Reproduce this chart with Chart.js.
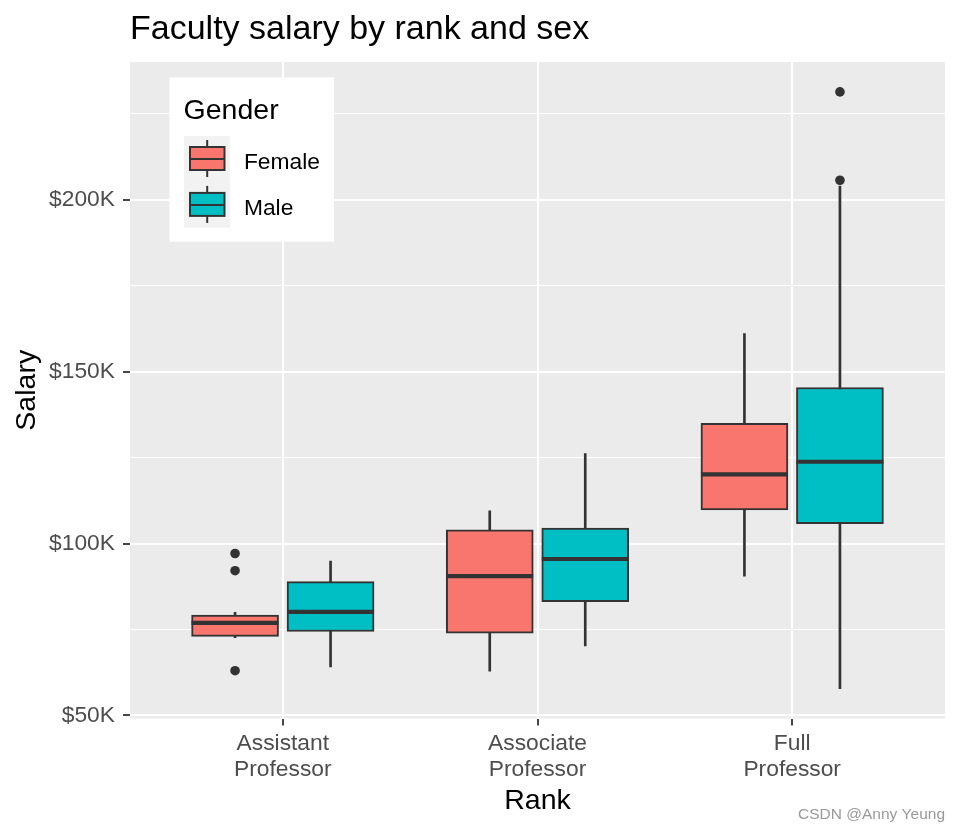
<!DOCTYPE html>
<html lang="en">
<head>
<meta charset="UTF-8">
<title>Faculty salary by rank and sex</title>
<script src="https://cdn.jsdelivr.net/npm/chart.js"></script>
<style>
  body { margin: 0; background: #fff; }
  canvas { display: block; }
</style>
</head>
<body>
<canvas id="myChart" width="960" height="832"></canvas>
<script>
// salaries in thousands of dollars
const ranks = [['Assistant', 'Professor'], ['Associate', 'Professor'], ['Full', 'Professor']];
const genders = ['Female', 'Male'];

const femaleLow    = [72.6, 62.9, 90.5];
const femaleQ1     = [73.0, 73.9, 109.8];
const femaleMedian = [76.9, 90.5, 120.1];
const femaleQ3     = [79.2, 104.0, 135.0];
const femaleHigh   = [80.0, 109.5, 161.1];

const maleLow    = [64.1, 70.2, 57.8];
const maleQ1     = [74.4, 83.1, 105.8];
const maleMedian = [80.1, 95.5, 123.8];
const maleQ3     = [88.9, 104.5, 145.4];
const maleHigh   = [94.9, 126.2, 204.0];

// outliers as [rank index, salary]
const femaleOutliers = [[0, 97.1], [0, 92.1], [0, 63.0]];
const maleOutliers   = [[2, 205.7], [2, 231.4]];

const yTicks = [50, 75, 100, 125, 150, 175, 200, 225];
const yMajor = [50, 100, 150, 200];

const FONT = '"Liberation Sans", Arial, sans-serif';
const DODGE = 0.1875;  // half of ggplot's 0.75 dodge width

const groups = [
  { label: genders[0], color: '#F8766D', low: femaleLow, q1: femaleQ1, median: femaleMedian, q3: femaleQ3, high: femaleHigh, out: femaleOutliers, shift: -DODGE },
  { label: genders[1], color: '#00BFC4', low: maleLow, q1: maleQ1, median: maleMedian, q3: maleQ3, high: maleHigh, out: maleOutliers, shift: DODGE }
];

const datasets = [];
const boxIndex = [];
groups.forEach(g => {
  datasets.push({
    type: 'bar',
    label: g.label + ' whisker',
    data: ranks.map((r, i) => ({ x: i + 1 + g.shift, y: [g.low[i], g.high[i]] })),
    backgroundColor: '#333333',
    barThickness: 2,
    grouped: false,
    order: 3
  });
  boxIndex.push(datasets.length);
  datasets.push({
    type: 'bar',
    label: g.label,
    data: ranks.map((r, i) => ({ x: i + 1 + g.shift, y: [g.q1[i], g.q3[i]] })),
    backgroundColor: g.color,
    borderColor: '#333333',
    borderWidth: 2,
    borderSkipped: false,
    barThickness: 87,
    grouped: false,
    order: 2
  });
  datasets.push({
    type: 'scatter',
    label: g.label + ' outliers',
    data: g.out.map(([i, v]) => ({ x: i + 1 + g.shift, y: v })),
    backgroundColor: '#333333',
    borderWidth: 0,
    pointRadius: 4.8,
    order: 1
  });
});

// grey panel behind the grid
const panelBg = {
  id: 'panelBg',
  beforeDraw(chart) {
    const { ctx, chartArea: a } = chart;
    ctx.save();
    ctx.fillStyle = '#EBEBEB';
    ctx.fillRect(a.left, a.top, a.right - a.left, a.bottom - a.top);
    ctx.restore();
  }
};

// thick median line across each box
const medianLines = {
  id: 'medianLines',
  afterDatasetsDraw(chart) {
    const ctx = chart.ctx;
    const y = chart.scales.y;
    groups.forEach((g, gi) => {
      chart.getDatasetMeta(boxIndex[gi]).data.forEach((bar, i) => {
        const py = y.getPixelForValue(g.median[i]);
        ctx.save();
        ctx.strokeStyle = '#333333';
        ctx.lineWidth = 4.2;
        ctx.beginPath();
        ctx.moveTo(bar.x - bar.width / 2, py);
        ctx.lineTo(bar.x + bar.width / 2, py);
        ctx.stroke();
        ctx.restore();
      });
    });
  }
};

// ggplot style legend inside the panel, plus the watermark
const gLegend = {
  id: 'gLegend',
  afterDraw(chart) {
    const ctx = chart.ctx;
    ctx.save();
    ctx.fillStyle = '#FFFFFF';
    ctx.fillRect(169.3, 77.3, 164.7, 164.4);

    ctx.fillStyle = '#000000';
    ctx.font = '28.5px ' + FONT;
    ctx.textAlign = 'left';
    ctx.textBaseline = 'alphabetic';
    ctx.fillText('Gender', 183.6, 119.3);

    ctx.fillStyle = '#F2F2F2';
    ctx.fillRect(184, 136, 46, 91.7);

    groups.forEach((g, i) => {
      const top = 136 + i * 45.9;
      const cx = 207.2;
      ctx.strokeStyle = '#333333';
      ctx.lineWidth = 2;
      ctx.beginPath();
      ctx.moveTo(cx, top + 4);
      ctx.lineTo(cx, top + 41);
      ctx.stroke();
      ctx.fillStyle = g.color;
      ctx.fillRect(190, top + 11, 34.5, 23);
      ctx.strokeRect(190, top + 11, 34.5, 23);
      ctx.beginPath();
      ctx.moveTo(190, top + 23);
      ctx.lineTo(224.5, top + 23);
      ctx.stroke();

      ctx.fillStyle = '#000000';
      ctx.font = '22.8px ' + FONT;
      ctx.fillText(g.label, 243.9, top + 32.7);
    });

    ctx.fillStyle = '#999999';
    ctx.font = '15.5px ' + FONT;
    ctx.textAlign = 'right';
    ctx.fillText('CSDN @Anny Yeung', 945, 819.3);
    ctx.restore();
  }
};

const isMajor = v => yMajor.includes(v);

new Chart(document.getElementById('myChart'), {
  type: 'bar',
  data: { datasets: datasets },
  options: {
    responsive: false,
    animation: false,
    devicePixelRatio: 1,
    layout: { padding: { top: 0, right: 15, bottom: 0, left: 0 } },
    plugins: {
      legend: { display: false },
      tooltip: { enabled: false },
      title: {
        display: true,
        text: 'Faculty salary by rank and sex',
        align: 'start',
        fullSize: false,
        color: '#000000',
        font: { family: FONT, size: 34, weight: 'normal' },
        padding: { top: 9.5, bottom: 11.7 }
      }
    },
    scales: {
      x: {
        type: 'linear',
        min: 0.4,
        max: 3.6,
        offset: false,
        afterBuildTicks: s => { s.ticks = ranks.map((r, i) => ({ value: i + 1 })); },
        afterFit: s => { s.height = 113.5; },
        border: { display: false },
        grid: { offset: false, color: '#FFFFFF', lineWidth: 2, tickColor: '#333333', tickLength: 7, tickWidth: 1.8 },
        ticks: {
          autoSkip: false,
          maxRotation: 0,
          padding: 5.5,
          color: '#4D4D4D',
          font: { family: FONT, size: 22.8, lineHeight: 1.123 },
          callback: v => ranks[Math.round(v) - 1]
        },
        title: {
          display: true,
          text: 'Rank',
          color: '#000000',
          font: { family: FONT, size: 28.5 },
          padding: { top: 0, bottom: 13.8 }
        }
      },
      y: {
        min: 49.1,
        max: 240.1,
        afterBuildTicks: s => { s.ticks = yTicks.map(v => ({ value: v })); },
        afterFit: s => { s.width = 130; },
        border: { display: false },
        grid: {
          color: '#FFFFFF',
          lineWidth: c => isMajor(c.tick.value) ? 2 : 1,
          tickColor: c => isMajor(c.tick.value) ? '#333333' : 'rgba(0,0,0,0)',
          tickLength: 7,
          tickWidth: 1.8
        },
        ticks: {
          autoSkip: false,
          padding: 8,
          color: '#4D4D4D',
          font: { family: FONT, size: 22.8 },
          callback: v => isMajor(v) ? '$' + v + 'K' : ''
        },
        title: {
          display: true,
          text: 'Salary',
          color: '#000000',
          font: { family: FONT, size: 28.5 },
          padding: { top: 9.7, bottom: 0 }
        }
      }
    }
  },
  plugins: [panelBg, medianLines, gLegend]
});
</script>
</body>
</html>
